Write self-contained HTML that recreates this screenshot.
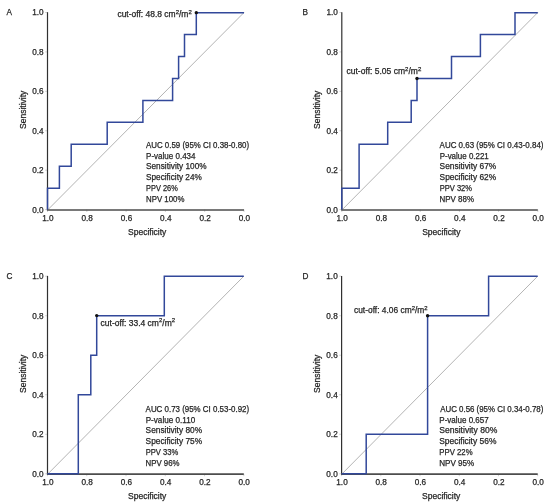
<!DOCTYPE html>
<html><head><meta charset="utf-8"><title>ROC curves</title>
<style>
html,body{margin:0;padding:0;background:#fff;}
body{width:550px;height:504px;overflow:hidden;}
svg{display:block;will-change:transform;}
text{font-family:"Liberation Sans", sans-serif;fill:#262626;stroke:#262626;stroke-width:0.25px;}
</style></head><body>
<svg width="550" height="504" viewBox="0 0 550 504">
<rect width="550" height="504" fill="#fff"/>
<text x="6.6" y="15.1" font-size="8.2">A</text>
<line x1="45.10" y1="209.60" x2="47.50" y2="209.60" stroke="#c8c8c8" stroke-width="0.8"/>
<text x="43.60" y="212.50" font-size="8.2" text-anchor="end">0.0</text>
<line x1="244.00" y1="209.60" x2="244.00" y2="212.00" stroke="#c8c8c8" stroke-width="0.8"/>
<text x="244.40" y="220.50" font-size="8.2" text-anchor="middle">0.0</text>
<line x1="45.10" y1="170.18" x2="47.50" y2="170.18" stroke="#c8c8c8" stroke-width="0.8"/>
<text x="43.60" y="173.08" font-size="8.2" text-anchor="end">0.2</text>
<line x1="204.70" y1="209.60" x2="204.70" y2="212.00" stroke="#c8c8c8" stroke-width="0.8"/>
<text x="205.10" y="220.50" font-size="8.2" text-anchor="middle">0.2</text>
<line x1="45.10" y1="130.76" x2="47.50" y2="130.76" stroke="#c8c8c8" stroke-width="0.8"/>
<text x="43.60" y="133.66" font-size="8.2" text-anchor="end">0.4</text>
<line x1="165.40" y1="209.60" x2="165.40" y2="212.00" stroke="#c8c8c8" stroke-width="0.8"/>
<text x="165.80" y="220.50" font-size="8.2" text-anchor="middle">0.4</text>
<line x1="45.10" y1="91.34" x2="47.50" y2="91.34" stroke="#c8c8c8" stroke-width="0.8"/>
<text x="43.60" y="94.24" font-size="8.2" text-anchor="end">0.6</text>
<line x1="126.10" y1="209.60" x2="126.10" y2="212.00" stroke="#c8c8c8" stroke-width="0.8"/>
<text x="126.50" y="220.50" font-size="8.2" text-anchor="middle">0.6</text>
<line x1="45.10" y1="51.92" x2="47.50" y2="51.92" stroke="#c8c8c8" stroke-width="0.8"/>
<text x="43.60" y="54.82" font-size="8.2" text-anchor="end">0.8</text>
<line x1="86.80" y1="209.60" x2="86.80" y2="212.00" stroke="#c8c8c8" stroke-width="0.8"/>
<text x="87.20" y="220.50" font-size="8.2" text-anchor="middle">0.8</text>
<line x1="45.10" y1="12.50" x2="47.50" y2="12.50" stroke="#c8c8c8" stroke-width="0.8"/>
<text x="43.60" y="15.40" font-size="8.2" text-anchor="end">1.0</text>
<line x1="47.50" y1="209.60" x2="47.50" y2="212.00" stroke="#c8c8c8" stroke-width="0.8"/>
<text x="47.90" y="220.50" font-size="8.2" text-anchor="middle">1.0</text>
<text x="147.25" y="234.50" font-size="8.5" text-anchor="middle">Specificity</text>
<text transform="translate(25.80,109.85) rotate(-90)" x="0" y="0" font-size="8.5" text-anchor="middle">Sensitivity</text>
<line x1="48.0" y1="209.6" x2="244.0" y2="12.5" stroke="#b4b4b4" stroke-width="1.0"/>
<line x1="47.5" y1="12.2" x2="47.5" y2="209.6" stroke="#303030" stroke-width="1.2"/>
<line x1="46.9" y1="210.0" x2="244.0" y2="210.0" stroke="#4d4d4d" stroke-width="1.7"/>
<polyline points="47.5,209.6 47.5,188.16 59.4,188.16 59.4,166.22 71.2,166.22 71.2,144.28 107.2,144.28 107.2,122.34 142.9,122.34 142.9,100.4 172.6,100.4 172.6,78.46 178.6,78.46 178.6,56.52 184.5,56.52 184.5,34.58 196.3,34.58 196.3,12.65 244.0,12.65" fill="none" stroke="#32489a" stroke-width="1.5" stroke-linejoin="miter" stroke-linecap="butt"/>
<circle cx="196.3" cy="12.65" r="1.7" fill="#111"/>
<text x="117.4" y="17.2" font-size="8.2" textLength="74.4" lengthAdjust="spacingAndGlyphs">cut-off: 48.8 cm<tspan font-size="5.8" dy="-3.3">2</tspan><tspan dy="3.3">/m</tspan><tspan font-size="5.8" dy="-3.3">2</tspan></text>
<text x="146.00" y="147.70" font-size="8.5" textLength="103.10" lengthAdjust="spacingAndGlyphs">AUC 0.59 (95% CI 0.38-0.80)</text>
<text x="146.10" y="158.50" font-size="8.5" textLength="49.40" lengthAdjust="spacingAndGlyphs">P-value 0.434</text>
<text x="146.00" y="169.30" font-size="8.5" textLength="60.60" lengthAdjust="spacingAndGlyphs">Sensitivity 100%</text>
<text x="146.00" y="180.10" font-size="8.5" textLength="55.80" lengthAdjust="spacingAndGlyphs">Specificity 24%</text>
<text x="146.10" y="190.90" font-size="8.5" textLength="31.70" lengthAdjust="spacingAndGlyphs">PPV 26%</text>
<text x="146.00" y="201.70" font-size="8.5" textLength="38.40" lengthAdjust="spacingAndGlyphs">NPV 100%</text>
<text x="302.5" y="15.1" font-size="8.2">B</text>
<line x1="339.40" y1="209.60" x2="341.80" y2="209.60" stroke="#c8c8c8" stroke-width="0.8"/>
<text x="337.90" y="212.50" font-size="8.2" text-anchor="end">0.0</text>
<line x1="537.80" y1="209.60" x2="537.80" y2="212.00" stroke="#c8c8c8" stroke-width="0.8"/>
<text x="538.20" y="220.50" font-size="8.2" text-anchor="middle">0.0</text>
<line x1="339.40" y1="170.18" x2="341.80" y2="170.18" stroke="#c8c8c8" stroke-width="0.8"/>
<text x="337.90" y="173.08" font-size="8.2" text-anchor="end">0.2</text>
<line x1="498.60" y1="209.60" x2="498.60" y2="212.00" stroke="#c8c8c8" stroke-width="0.8"/>
<text x="499.00" y="220.50" font-size="8.2" text-anchor="middle">0.2</text>
<line x1="339.40" y1="130.76" x2="341.80" y2="130.76" stroke="#c8c8c8" stroke-width="0.8"/>
<text x="337.90" y="133.66" font-size="8.2" text-anchor="end">0.4</text>
<line x1="459.40" y1="209.60" x2="459.40" y2="212.00" stroke="#c8c8c8" stroke-width="0.8"/>
<text x="459.80" y="220.50" font-size="8.2" text-anchor="middle">0.4</text>
<line x1="339.40" y1="91.34" x2="341.80" y2="91.34" stroke="#c8c8c8" stroke-width="0.8"/>
<text x="337.90" y="94.24" font-size="8.2" text-anchor="end">0.6</text>
<line x1="420.20" y1="209.60" x2="420.20" y2="212.00" stroke="#c8c8c8" stroke-width="0.8"/>
<text x="420.60" y="220.50" font-size="8.2" text-anchor="middle">0.6</text>
<line x1="339.40" y1="51.92" x2="341.80" y2="51.92" stroke="#c8c8c8" stroke-width="0.8"/>
<text x="337.90" y="54.82" font-size="8.2" text-anchor="end">0.8</text>
<line x1="381.00" y1="209.60" x2="381.00" y2="212.00" stroke="#c8c8c8" stroke-width="0.8"/>
<text x="381.40" y="220.50" font-size="8.2" text-anchor="middle">0.8</text>
<line x1="339.40" y1="12.50" x2="341.80" y2="12.50" stroke="#c8c8c8" stroke-width="0.8"/>
<text x="337.90" y="15.40" font-size="8.2" text-anchor="end">1.0</text>
<line x1="341.80" y1="209.60" x2="341.80" y2="212.00" stroke="#c8c8c8" stroke-width="0.8"/>
<text x="342.20" y="220.50" font-size="8.2" text-anchor="middle">1.0</text>
<text x="441.30" y="234.50" font-size="8.5" text-anchor="middle">Specificity</text>
<text transform="translate(320.10,109.85) rotate(-90)" x="0" y="0" font-size="8.5" text-anchor="middle">Sensitivity</text>
<line x1="342.3" y1="209.6" x2="537.8" y2="12.5" stroke="#b4b4b4" stroke-width="1.0"/>
<line x1="341.8" y1="12.2" x2="341.8" y2="209.6" stroke="#303030" stroke-width="1.2"/>
<line x1="341.2" y1="210.0" x2="537.8" y2="210.0" stroke="#4d4d4d" stroke-width="1.7"/>
<polyline points="341.8,209.6 341.8,188.16 359.1,188.16 359.1,144.28 387.7,144.28 387.7,122.34 411.2,122.34 411.2,100.4 417.0,100.4 417.0,78.46 451.5,78.46 451.5,56.52 480.4,56.52 480.4,34.58 515.0,34.58 515.0,12.65 537.8,12.65" fill="none" stroke="#32489a" stroke-width="1.5" stroke-linejoin="miter" stroke-linecap="butt"/>
<circle cx="417.0" cy="78.46" r="1.7" fill="#111"/>
<text x="346.5" y="74.4" font-size="8.2" textLength="74.8" lengthAdjust="spacingAndGlyphs">cut-off: 5.05 cm<tspan font-size="5.8" dy="-3.3">2</tspan><tspan dy="3.3">/m</tspan><tspan font-size="5.8" dy="-3.3">2</tspan></text>
<text x="439.60" y="147.70" font-size="8.5" textLength="103.90" lengthAdjust="spacingAndGlyphs">AUC 0.63 (95% CI 0.43-0.84)</text>
<text x="439.70" y="158.50" font-size="8.5" textLength="49.10" lengthAdjust="spacingAndGlyphs">P-value 0.221</text>
<text x="439.60" y="169.30" font-size="8.5" textLength="56.70" lengthAdjust="spacingAndGlyphs">Sensitivity 67%</text>
<text x="439.60" y="180.10" font-size="8.5" textLength="56.50" lengthAdjust="spacingAndGlyphs">Specificity 62%</text>
<text x="439.70" y="190.90" font-size="8.5" textLength="32.30" lengthAdjust="spacingAndGlyphs">PPV 32%</text>
<text x="439.60" y="201.70" font-size="8.5" textLength="34.40" lengthAdjust="spacingAndGlyphs">NPV 88%</text>
<text x="6.6" y="279.0" font-size="8.2">C</text>
<line x1="45.10" y1="473.80" x2="47.50" y2="473.80" stroke="#c8c8c8" stroke-width="0.8"/>
<text x="43.60" y="476.70" font-size="8.2" text-anchor="end">0.0</text>
<line x1="243.80" y1="473.80" x2="243.80" y2="476.20" stroke="#c8c8c8" stroke-width="0.8"/>
<text x="244.20" y="484.70" font-size="8.2" text-anchor="middle">0.0</text>
<line x1="45.10" y1="434.28" x2="47.50" y2="434.28" stroke="#c8c8c8" stroke-width="0.8"/>
<text x="43.60" y="437.18" font-size="8.2" text-anchor="end">0.2</text>
<line x1="204.54" y1="473.80" x2="204.54" y2="476.20" stroke="#c8c8c8" stroke-width="0.8"/>
<text x="204.94" y="484.70" font-size="8.2" text-anchor="middle">0.2</text>
<line x1="45.10" y1="394.76" x2="47.50" y2="394.76" stroke="#c8c8c8" stroke-width="0.8"/>
<text x="43.60" y="397.66" font-size="8.2" text-anchor="end">0.4</text>
<line x1="165.28" y1="473.80" x2="165.28" y2="476.20" stroke="#c8c8c8" stroke-width="0.8"/>
<text x="165.68" y="484.70" font-size="8.2" text-anchor="middle">0.4</text>
<line x1="45.10" y1="355.24" x2="47.50" y2="355.24" stroke="#c8c8c8" stroke-width="0.8"/>
<text x="43.60" y="358.14" font-size="8.2" text-anchor="end">0.6</text>
<line x1="126.02" y1="473.80" x2="126.02" y2="476.20" stroke="#c8c8c8" stroke-width="0.8"/>
<text x="126.42" y="484.70" font-size="8.2" text-anchor="middle">0.6</text>
<line x1="45.10" y1="315.72" x2="47.50" y2="315.72" stroke="#c8c8c8" stroke-width="0.8"/>
<text x="43.60" y="318.62" font-size="8.2" text-anchor="end">0.8</text>
<line x1="86.76" y1="473.80" x2="86.76" y2="476.20" stroke="#c8c8c8" stroke-width="0.8"/>
<text x="87.16" y="484.70" font-size="8.2" text-anchor="middle">0.8</text>
<line x1="45.10" y1="276.20" x2="47.50" y2="276.20" stroke="#c8c8c8" stroke-width="0.8"/>
<text x="43.60" y="279.10" font-size="8.2" text-anchor="end">1.0</text>
<line x1="47.50" y1="473.80" x2="47.50" y2="476.20" stroke="#c8c8c8" stroke-width="0.8"/>
<text x="47.90" y="484.70" font-size="8.2" text-anchor="middle">1.0</text>
<text x="147.15" y="498.70" font-size="8.5" text-anchor="middle">Specificity</text>
<text transform="translate(25.80,373.80) rotate(-90)" x="0" y="0" font-size="8.5" text-anchor="middle">Sensitivity</text>
<line x1="48.0" y1="473.8" x2="243.8" y2="276.2" stroke="#b4b4b4" stroke-width="1.0"/>
<line x1="47.5" y1="275.9" x2="47.5" y2="473.8" stroke="#303030" stroke-width="1.2"/>
<line x1="46.9" y1="474.2" x2="243.8" y2="474.2" stroke="#4d4d4d" stroke-width="1.7"/>
<polyline points="47.5,473.8 78.3,473.8 78.3,394.8 90.8,394.8 90.8,355.3 96.7,355.3 96.7,315.7 164.3,315.7 164.3,276.2 243.8,276.2" fill="none" stroke="#32489a" stroke-width="1.5" stroke-linejoin="miter" stroke-linecap="butt"/>
<circle cx="96.7" cy="315.6" r="1.7" fill="#111"/>
<text x="100.6" y="325.5" font-size="8.2" textLength="74.5" lengthAdjust="spacingAndGlyphs">cut-off: 33.4 cm<tspan font-size="5.8" dy="-3.3">2</tspan><tspan dy="3.3">/m</tspan><tspan font-size="5.8" dy="-3.3">2</tspan></text>
<text x="145.60" y="411.70" font-size="8.5" textLength="103.50" lengthAdjust="spacingAndGlyphs">AUC 0.73 (95% CI 0.53-0.92)</text>
<text x="145.70" y="422.50" font-size="8.5" textLength="49.50" lengthAdjust="spacingAndGlyphs">P-value 0.110</text>
<text x="145.60" y="433.30" font-size="8.5" textLength="56.50" lengthAdjust="spacingAndGlyphs">Sensitivity 80%</text>
<text x="145.60" y="444.10" font-size="8.5" textLength="56.50" lengthAdjust="spacingAndGlyphs">Specificity 75%</text>
<text x="145.70" y="454.90" font-size="8.5" textLength="32.60" lengthAdjust="spacingAndGlyphs">PPV 33%</text>
<text x="145.60" y="465.70" font-size="8.5" textLength="33.90" lengthAdjust="spacingAndGlyphs">NPV 96%</text>
<text x="302.5" y="279.0" font-size="8.2">D</text>
<line x1="339.20" y1="473.80" x2="341.60" y2="473.80" stroke="#c8c8c8" stroke-width="0.8"/>
<text x="337.70" y="476.70" font-size="8.2" text-anchor="end">0.0</text>
<line x1="537.70" y1="473.80" x2="537.70" y2="476.20" stroke="#c8c8c8" stroke-width="0.8"/>
<text x="538.10" y="484.70" font-size="8.2" text-anchor="middle">0.0</text>
<line x1="339.20" y1="434.28" x2="341.60" y2="434.28" stroke="#c8c8c8" stroke-width="0.8"/>
<text x="337.70" y="437.18" font-size="8.2" text-anchor="end">0.2</text>
<line x1="498.48" y1="473.80" x2="498.48" y2="476.20" stroke="#c8c8c8" stroke-width="0.8"/>
<text x="498.88" y="484.70" font-size="8.2" text-anchor="middle">0.2</text>
<line x1="339.20" y1="394.76" x2="341.60" y2="394.76" stroke="#c8c8c8" stroke-width="0.8"/>
<text x="337.70" y="397.66" font-size="8.2" text-anchor="end">0.4</text>
<line x1="459.26" y1="473.80" x2="459.26" y2="476.20" stroke="#c8c8c8" stroke-width="0.8"/>
<text x="459.66" y="484.70" font-size="8.2" text-anchor="middle">0.4</text>
<line x1="339.20" y1="355.24" x2="341.60" y2="355.24" stroke="#c8c8c8" stroke-width="0.8"/>
<text x="337.70" y="358.14" font-size="8.2" text-anchor="end">0.6</text>
<line x1="420.04" y1="473.80" x2="420.04" y2="476.20" stroke="#c8c8c8" stroke-width="0.8"/>
<text x="420.44" y="484.70" font-size="8.2" text-anchor="middle">0.6</text>
<line x1="339.20" y1="315.72" x2="341.60" y2="315.72" stroke="#c8c8c8" stroke-width="0.8"/>
<text x="337.70" y="318.62" font-size="8.2" text-anchor="end">0.8</text>
<line x1="380.82" y1="473.80" x2="380.82" y2="476.20" stroke="#c8c8c8" stroke-width="0.8"/>
<text x="381.22" y="484.70" font-size="8.2" text-anchor="middle">0.8</text>
<line x1="339.20" y1="276.20" x2="341.60" y2="276.20" stroke="#c8c8c8" stroke-width="0.8"/>
<text x="337.70" y="279.10" font-size="8.2" text-anchor="end">1.0</text>
<line x1="341.60" y1="473.80" x2="341.60" y2="476.20" stroke="#c8c8c8" stroke-width="0.8"/>
<text x="342.00" y="484.70" font-size="8.2" text-anchor="middle">1.0</text>
<text x="441.15" y="498.70" font-size="8.5" text-anchor="middle">Specificity</text>
<text transform="translate(319.90,373.80) rotate(-90)" x="0" y="0" font-size="8.5" text-anchor="middle">Sensitivity</text>
<line x1="342.1" y1="473.8" x2="537.7" y2="276.2" stroke="#b4b4b4" stroke-width="1.0"/>
<line x1="341.6" y1="275.9" x2="341.6" y2="473.8" stroke="#303030" stroke-width="1.2"/>
<line x1="341.0" y1="474.2" x2="537.7" y2="474.2" stroke="#4d4d4d" stroke-width="1.7"/>
<polyline points="341.6,473.8 366.2,473.8 366.2,434.3 427.6,434.3 427.6,315.7 488.6,315.7 488.6,276.2 537.7,276.2" fill="none" stroke="#32489a" stroke-width="1.5" stroke-linejoin="miter" stroke-linecap="butt"/>
<circle cx="427.6" cy="315.7" r="1.7" fill="#111"/>
<text x="354.0" y="313.1" font-size="8.2" textLength="73.6" lengthAdjust="spacingAndGlyphs">cut-off: 4.06 cm<tspan font-size="5.8" dy="-3.3">2</tspan><tspan dy="3.3">/m</tspan><tspan font-size="5.8" dy="-3.3">2</tspan></text>
<text x="440.20" y="411.70" font-size="8.5" textLength="103.10" lengthAdjust="spacingAndGlyphs">AUC 0.56 (95% CI 0.34-0.78)</text>
<text x="439.30" y="422.50" font-size="8.5" textLength="49.40" lengthAdjust="spacingAndGlyphs">P-value 0.657</text>
<text x="439.20" y="433.30" font-size="8.5" textLength="58.10" lengthAdjust="spacingAndGlyphs">Sensitivity 80%</text>
<text x="439.20" y="444.10" font-size="8.5" textLength="57.20" lengthAdjust="spacingAndGlyphs">Specificity 56%</text>
<text x="439.30" y="454.90" font-size="8.5" textLength="33.30" lengthAdjust="spacingAndGlyphs">PPV 22%</text>
<text x="439.20" y="465.70" font-size="8.5" textLength="35.10" lengthAdjust="spacingAndGlyphs">NPV 95%</text>
</svg>
</body></html>
